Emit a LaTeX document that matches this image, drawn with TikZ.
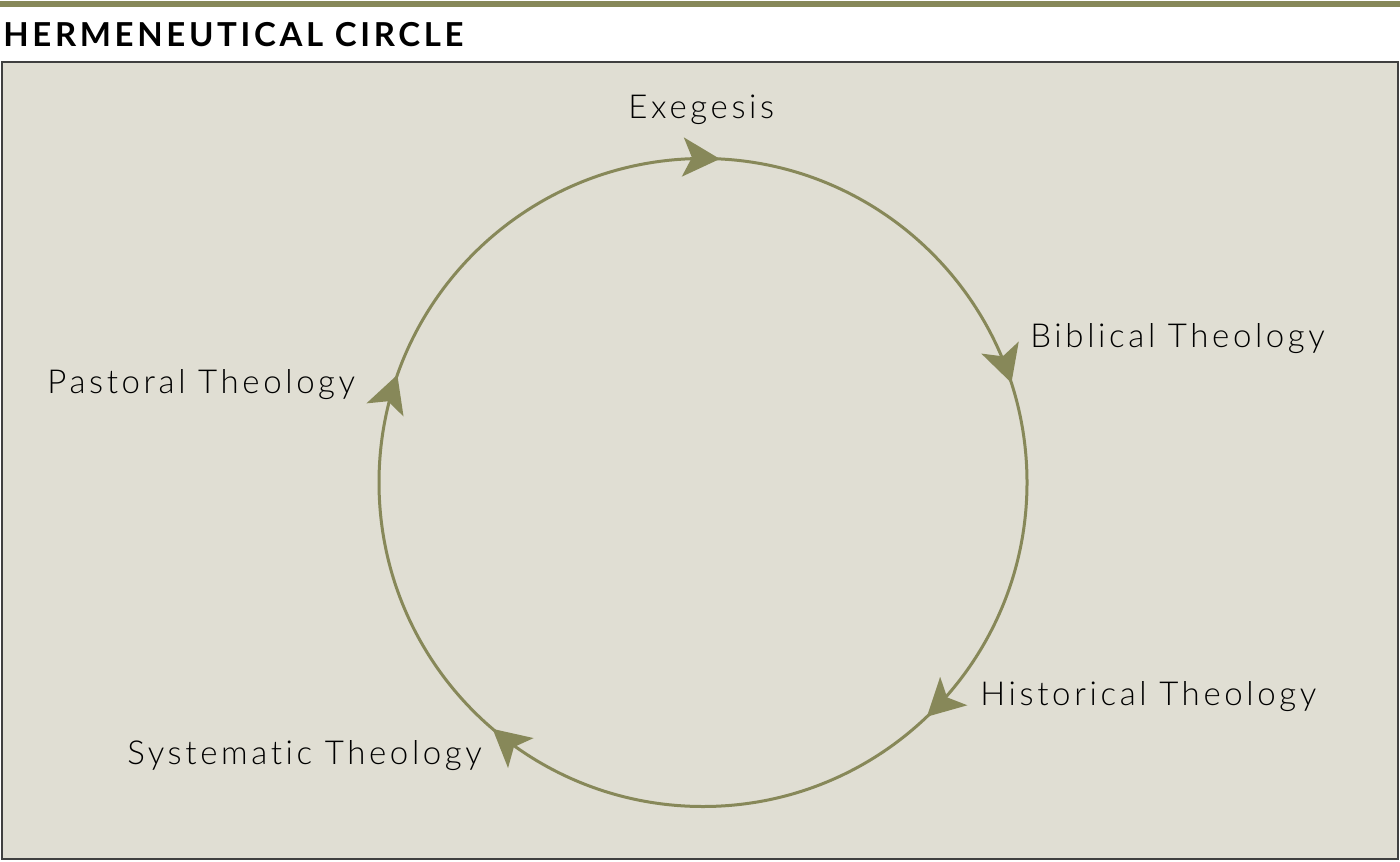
\documentclass[tikz,border=0pt]{standalone}
\usepackage{fontspec}
\setmainfont{Lato}
\IfFontExistsTF{Lato Light}{%
  \newfontfamily\lblfont[LetterSpace=11,Ligatures=NoCommon]{Lato Light}}{%
  \newfontfamily\lblfont[LetterSpace=11,Ligatures=NoCommon]{Lato}}
\newfontfamily\ttlfont[LetterSpace=11,Ligatures=NoCommon]{Lato}
\usetikzlibrary{arrows.meta,decorations.markings}
\definecolor{olive}{HTML}{878859}
\definecolor{panel}{HTML}{E0DED3}
\definecolor{frame}{HTML}{404040}
\tikzset{
  lbl/.style={font=\lblfont\fontsize{16.5}{20}\selectfont, text=black, inner sep=0pt, anchor=base west},
  ttl/.style={font=\ttlfont\bfseries\fontsize{16.5}{20}\selectfont, text=black, inner sep=0pt, anchor=base west},
  cyc/.style={draw=olive, line width=1.5pt,
    postaction={decorate},
    decoration={markings,
      mark=at position 0.0539 with {\arrow{mytip}},
      mark=at position 0.2583 with {\arrow{mytip}},
      mark=at position 0.4503 with {\arrow{mytip}},
      mark=at position 0.6286 with {\arrow{mytip}},
      mark=at position 0.8625 with {\arrow{mytip}}}},
  mytip/.tip={Stealth[length=18.5pt,width=19.5pt,inset=4.5pt,color=olive]}
}
\begin{document}
\begin{tikzpicture}[x=0.5pt,y=-0.5pt]
\useasboundingbox (0,0) rectangle (1400,861);
\fill[white] (0,0) rectangle (1400,861);
\fill[olive] (0,1) rectangle (1400,7);
\node[ttl] (title) at (3,47) {HERMENEUTICAL CIRCLE};
\draw[frame, fill=panel, line width=1pt] (1.5,62) rectangle (1398,859);
\coordinate (c) at (703,482.5);
\draw[cyc] (c) ++(-180:324) arc[start angle=-180, end angle=180, radius=324];
\node[lbl] (exe) at (628,119) {Exegesis};
\node[lbl] (bib) at (1030,347) {Biblical Theology};
\node[lbl] (his) at (980,705) {Historical Theology};
\node[lbl] (sys) at (127,764) {Systematic Theology};
\node[lbl] (pas) at (47,393) {Pastoral Theology};
\end{tikzpicture}
\end{document}
